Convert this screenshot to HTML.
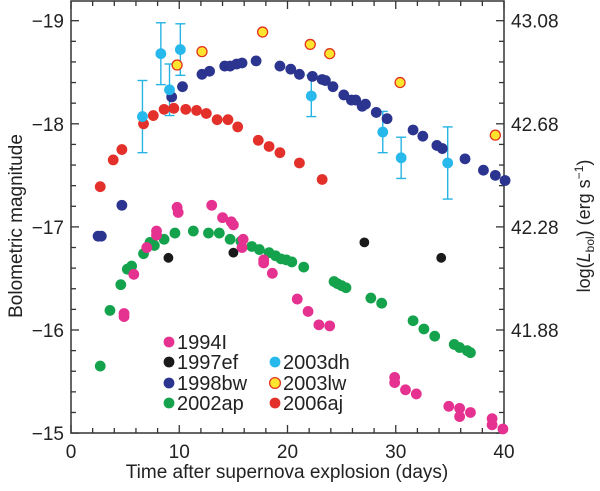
<!DOCTYPE html>
<html><head><meta charset="utf-8"><style>
html,body{margin:0;padding:0;background:#fff;}
svg{display:block;font-family:"Liberation Sans",Arial,sans-serif;}
</style></head><body>
<svg id="chart" width="600" height="491" viewBox="0 0 600 491" xmlns="http://www.w3.org/2000/svg">
<g id="axes"></g><g id="marks"></g><g id="legend"></g>
<text x="287" y="478" font-size="19" text-anchor="middle" fill="#222">Time after supernova explosion (days)</text>
<text transform="translate(22,226) rotate(-90)" font-size="19" text-anchor="middle" fill="#222">Bolometric magnitude</text>
<text transform="translate(590,226) rotate(-90)" font-size="18" text-anchor="middle" fill="#222">log(<tspan font-style="italic">L</tspan><tspan font-size="12" dy="4">bol</tspan><tspan dy="-4">) (erg s</tspan><tspan font-size="12" dy="-7">−1</tspan><tspan dy="7">)</tspan></text>
</svg>
<script>
const xTicks=[0,10,20,30,40];
const yTicks=[-19,-18,-17,-16,-15];
const yTickLabels=["−19","−18","−17","−16","−15"];
const rightTickLabels=["43.08","42.68","42.28","41.88",""];
const sn1994I_t=[4.9,4.9,5.8,7.0,7.9,7.9,9.8,9.9,13.0,14.0,14.8,15.0,15.9,15.8,17.8,17.8,18.6,20.9,21.9,22.9,23.9,29.9,29.9,30.9,31.9,34.9,35.9,35.9,36.9,38.9,38.9,39.9];
const sn1994I_m=[-16.13,-16.16,-16.54,-16.8,-16.96,-16.92,-17.19,-17.14,-17.21,-17.09,-17.05,-17.02,-16.88,-16.8,-16.68,-16.65,-16.55,-16.3,-16.18,-16.05,-16.04,-15.54,-15.49,-15.42,-15.38,-15.26,-15.24,-15.16,-15.2,-15.14,-15.08,-15.04];
const sn1997ef_t=[9.0,15.0,27.1,34.2];
const sn1997ef_m=[-16.7,-16.75,-16.85,-16.7];
const sn1998bw_t=[2.5,2.8,4.7,9.3,10.3,12.1,12.8,14.2,14.7,15.3,15.8,17.1,19.3,20.3,21.1,22.3,23.2,23.5,24.2,25.2,25.9,26.3,26.9,27.2,28.2,29.2,31.6,32.5,33.8,34.3,36.4,38.1,39.2,40.1];
const sn1998bw_m=[-16.91,-16.91,-17.21,-18.26,-18.36,-18.48,-18.51,-18.56,-18.56,-18.58,-18.59,-18.61,-18.56,-18.53,-18.48,-18.46,-18.43,-18.42,-18.36,-18.28,-18.23,-18.23,-18.17,-18.19,-18.11,-18.05,-17.94,-17.88,-17.79,-17.76,-17.66,-17.55,-17.5,-17.45];
const sn2002ap_t=[2.7,3.6,4.6,5.2,5.6,6.7,7.3,7.7,8.6,9.6,11.3,12.7,13.7,14.7,15.7,16.7,17.4,18.3,18.9,19.4,19.9,20.4,21.5,24.3,24.6,25.0,25.4,27.7,28.7,31.6,32.6,33.6,35.4,35.9,36.6,36.9];
const sn2002ap_m=[-15.65,-16.19,-16.44,-16.59,-16.62,-16.74,-16.85,-16.82,-16.88,-16.94,-16.96,-16.94,-16.94,-16.88,-16.86,-16.81,-16.78,-16.75,-16.72,-16.69,-16.68,-16.66,-16.61,-16.47,-16.45,-16.43,-16.41,-16.31,-16.26,-16.09,-16.01,-15.94,-15.86,-15.83,-15.8,-15.78];
const sn2003dh_t=[6.6,8.3,9.1,10.1,22.2,28.8,30.5,34.8];
const sn2003dh_m=[-18.07,-18.68,-18.33,-18.72,-18.27,-17.92,-17.67,-17.62];
const sn2003dh_err=[0.35,0.3,0.25,0.25,0.2,0.2,0.2,0.35];
const sn2003lw_t=[9.8,12.1,17.7,22.1,23.9,30.4,39.2];
const sn2003lw_m=[-18.57,-18.7,-18.89,-18.77,-18.68,-18.4,-17.89];
const sn2006aj_t=[2.7,3.9,4.7,6.7,7.6,8.6,9.5,10.6,11.6,12.5,13.5,14.5,15.4,17.3,18.3,19.3,21.1,23.2];
const sn2006aj_m=[-17.39,-17.65,-17.75,-18.0,-18.08,-18.14,-18.15,-18.14,-18.13,-18.1,-18.04,-18.04,-17.97,-17.84,-17.78,-17.72,-17.62,-17.46];

const X0=71,X1=504,Y0=1,YB=433;
function xs(d){return X0+d*(X1-X0)/40;}
function ys(m){return 20.7+(m+19)*103.1;}
const NS="http://www.w3.org/2000/svg";
function mk(tag,attrs,parent){const e=document.createElementNS(NS,tag);for(const k in attrs)e.setAttribute(k,attrs[k]);parent.appendChild(e);return e;}
const axes=document.getElementById('axes'),marks=document.getElementById('marks'),leg=document.getElementById('legend');
const frame=mk('rect',{x:X0,y:Y0,width:X1-X0,height:YB-Y0,fill:'none',stroke:'#333','stroke-width':1.5},axes);


for(let d=0;d<=40;d+=2){const maj=d%10===0,L=maj?8:5;
 mk('line',{x1:xs(d),x2:xs(d),y1:YB,y2:YB-L,stroke:'#333','stroke-width':1.3},axes);
 mk('line',{x1:xs(d),x2:xs(d),y1:Y0,y2:Y0+L,stroke:'#333','stroke-width':1.3},axes);}
xTicks.forEach(d=>{const t=mk('text',{x:xs(d),y:458,'font-size':19,'text-anchor':'middle',fill:'#222'},axes);t.textContent=d;
 
 });
for(let i=0;i<=25;i++){const m=-19.2+i*0.2;const y=ys(m);if(y<Y0||y>YB+0.5)continue;const maj=Math.abs(m-Math.round(m))<0.01,L=maj?8:5;
 mk('line',{x1:X0,x2:X0+L,y1:y,y2:y,stroke:'#333','stroke-width':1.3},axes);
 mk('line',{x1:X1,x2:X1-L,y1:y,y2:y,stroke:'#333','stroke-width':1.3},axes);}
yTicks.forEach((m,i)=>{const t=mk('text',{x:64,y:ys(m)+7,'font-size':19,'text-anchor':'end',fill:'#222'},axes);t.textContent=yTickLabels[i];
 
 
 if(rightTickLabels[i]){const r=mk('text',{x:511,y:ys(m)+7,'font-size':19,fill:'#222'},axes);r.textContent=rightTickLabels[i];
 
 }});
sn2003dh_t.forEach((t,i)=>{const x=xs(t),a=ys(sn2003dh_m[i]-sn2003dh_err[i]),b=ys(sn2003dh_m[i]+sn2003dh_err[i]);
 const g=mk('g',{stroke:'#27b4e4','stroke-width':1.4},marks);
 
 
 mk('line',{x1:x,x2:x,y1:a,y2:b},g);mk('line',{x1:x-5,x2:x+5,y1:a,y2:a},g);mk('line',{x1:x-5,x2:x+5,y1:b,y2:b},g);});
function series(ts,ms,fill,name,r,stroke){ts.forEach((t,i)=>{const c=mk('circle',{cx:xs(t),cy:ys(ms[i]),r:r,fill:fill},marks);
 if(stroke){c.setAttribute('stroke',stroke);c.setAttribute('stroke-width',1.3);}
 
 });}
series(sn2006aj_t,sn2006aj_m,'#e3302a','2006aj',5.4);
series(sn1998bw_t,sn1998bw_m,'#2b348e','1998bw',5.4);
series(sn2002ap_t,sn2002ap_m,'#14a34c','2002ap',5.4);
series(sn1994I_t,sn1994I_m,'#e5318f','1994I',5.4);
series(sn1997ef_t,sn1997ef_m,'#1a1a1a','1997ef',4.9);
series(sn2003dh_t,sn2003dh_m,'#27b8ec','2003dh',5.4);
series(sn2003lw_t,sn2003lw_m,'#ffe52e','2003lw',5,'#e0321f');
const legItems=[['1994I','#e5318f',169,342],['1997ef','#1a1a1a',169,362],['1998bw','#2b348e',169,383],['2002ap','#14a34c',169,403],
['2003dh','#27b8ec',275,362],['2003lw','#ffe52e',275,383],['2006aj','#e3302a',275,403]];
legItems.forEach(it=>{const g=mk('g',{},leg);
 
 
 const c=mk('circle',{cx:it[2],cy:it[3],r:5.4,fill:it[1]},g);
 if(it[0]==='2003lw'){c.setAttribute('stroke','#e0321f');c.setAttribute('stroke-width',1.3);}
 const t=mk('text',{x:it[2]+8,y:it[3]+7,'font-size':20,fill:'#222'},g);t.textContent=it[0];});
</script>
</body></html>
